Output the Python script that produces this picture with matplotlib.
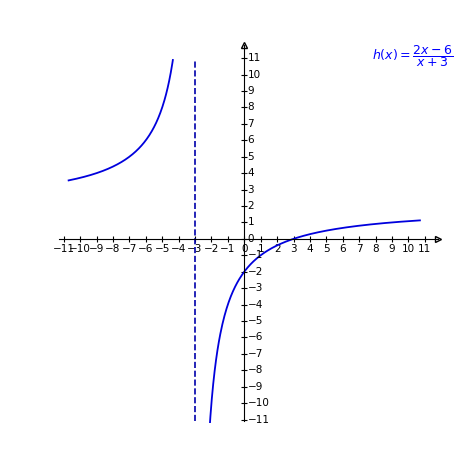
import numpy as np
import matplotlib
matplotlib.use('Agg')
import matplotlib.pyplot as plt

# h(x) = (2x - 6) / (x + 3), two branches either side of the asymptote x = -3
left_x = np.linspace(-10.7, -4.35, 200)
right_x = np.linspace(-2.15, 10.7, 300)
asymptote_x = -3
xticks = list(range(-11, 12))
yticks = list(range(-11, 12))


def h(x):
    return (2 * x - 6) / (x + 3)


fig = plt.figure(figsize=(4.74, 4.74), dpi=100)
ax = fig.add_axes([0.124, 0.108, 0.8, 0.797])

ax.plot(left_x, h(left_x), color='#0000dd', linewidth=1.3)
ax.plot(right_x, h(right_x), color='#0000dd', linewidth=1.3)
ax.plot([asymptote_x, asymptote_x], [-11.1, 10.9], color='#0000aa',
        linestyle='--', linewidth=1.2)

ax.set_xlim(-11.3, 11.8)
ax.set_ylim(-11.2, 11.8)
for s in ['top', 'right']:
    ax.spines[s].set_visible(False)
ax.spines['left'].set_position(('data', 0))
ax.spines['bottom'].set_position(('data', 0))
ax.spines['left'].set_bounds(-11.1, 11.8)
ax.set_xticks(xticks)
ax.set_yticks(yticks)
ax.set_xticklabels([str(t).replace('-', '\u2212') for t in xticks])
ax.set_yticklabels([])
ax.tick_params(direction='inout', length=5, labelsize=7.5, pad=1)
for t in yticks:
    ax.text(0.2, t, str(t).replace('-', '\u2212'), fontsize=7.5,
            ha='left', va='center')
ax.plot(1, 0, '>', color='black', transform=ax.get_yaxis_transform(),
        clip_on=False, markersize=5, markerfacecolor='none')
ax.plot(0, 1, '^', color='black', transform=ax.get_xaxis_transform(),
        clip_on=False, markersize=5, markerfacecolor='none')

fig.text(0.785, 0.875, r'$h(x) = \dfrac{2x-6}{x+3}$', color='blue', fontsize=9)

fig.savefig('out.png', dpi=100)
